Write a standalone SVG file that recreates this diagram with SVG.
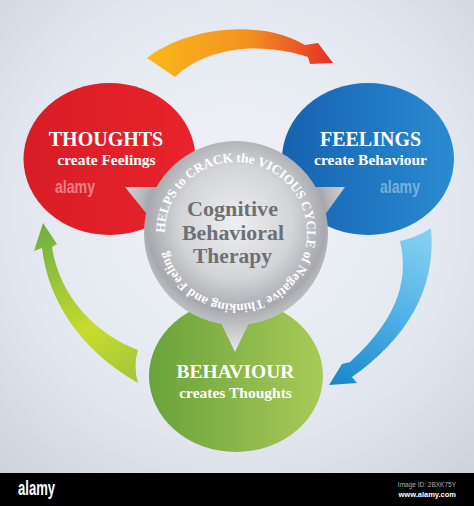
<svg xmlns="http://www.w3.org/2000/svg" width="474" height="506" viewBox="0 0 474 506">
<defs>
<style>
.lbl{font-family:"Liberation Serif","Times New Roman",serif;font-weight:bold;fill:#ffffff;text-anchor:middle}
.big{font-size:20px}
.sub{font-size:15.5px}
.cbt{font-family:"Liberation Serif","Times New Roman",serif;font-weight:bold;fill:#6f7073;font-size:20px;text-anchor:middle}
.ring{font-family:"Liberation Serif","Times New Roman",serif;font-weight:bold;fill:#ffffff;font-size:13.1px}
.wm{font-family:"Liberation Sans",Arial,sans-serif;font-weight:bold;fill:#ffffff}
</style>
<radialGradient id="bg" cx="237" cy="210" r="360" gradientUnits="userSpaceOnUse">
<stop offset="0" stop-color="#f1f4f9"/>
<stop offset="0.6" stop-color="#e3e8f0"/>
<stop offset="1" stop-color="#ccd2dc"/>
</radialGradient>
<linearGradient id="gRed" x1="0" y1="0" x2="1" y2="0">
<stop offset="0" stop-color="#d81d26"/>
<stop offset="1" stop-color="#e8232b"/>
</linearGradient>
<linearGradient id="gBlue" x1="0" y1="0" x2="1" y2="0">
<stop offset="0" stop-color="#1662b0"/>
<stop offset="1" stop-color="#2a8bd1"/>
</linearGradient>
<linearGradient id="gGreen" x1="0" y1="0" x2="1" y2="0">
<stop offset="0" stop-color="#6aa23b"/>
<stop offset="1" stop-color="#a9ca58"/>
</linearGradient>
<radialGradient id="gGray" cx="236" cy="222" r="126" gradientUnits="userSpaceOnUse">
<stop offset="0" stop-color="#eeeff1"/>
<stop offset="0.45" stop-color="#d3d4d7"/>
<stop offset="0.71" stop-color="#a7a9ae"/>
<stop offset="0.76" stop-color="#b4b6ba"/>
<stop offset="1" stop-color="#e2e3e6"/>
</radialGradient>
<linearGradient id="gOrange" x1="147" y1="0" x2="333" y2="0" gradientUnits="userSpaceOnUse">
<stop offset="0" stop-color="#f9b81b"/>
<stop offset="0.55" stop-color="#f39120"/>
<stop offset="1" stop-color="#e42f28"/>
</linearGradient>
<linearGradient id="gBlueArrow" x1="420" y1="228" x2="335" y2="385" gradientUnits="userSpaceOnUse">
<stop offset="0" stop-color="#86d1f2"/>
<stop offset="0.5" stop-color="#4fb0e6"/>
<stop offset="1" stop-color="#1a87c9"/>
</linearGradient>
<linearGradient id="gGreenArrow" x1="138" y1="370" x2="43" y2="223" gradientUnits="userSpaceOnUse">
<stop offset="0" stop-color="#a7c83a"/>
<stop offset="0.35" stop-color="#c8dc2c"/>
<stop offset="1" stop-color="#6dad44"/>
</linearGradient>
<path id="ringPath" d="M165,233 A71,71 0 1 1 307,233 A71,71 0 1 1 165,233"/>
</defs>

<rect x="0" y="0" width="474" height="506" fill="url(#bg)"/>

<g id="connectors">
<path id="arrow-thoughts-feelings" fill="url(#gOrange)" d="M147,58 C185,28 260,18 305,45 L318,43 L333,63 L310,64 L308,57 C275,46 215,40 175,77 Z"/>
<path id="arrow-feelings-behaviour" fill="url(#gBlueArrow)" d="M400,241 C408,275 402,315 350,362 L342,364 L329,385 L357,383 L352,377 C405,340 437,290 431,228 Q416,238 400,241 Z"/>
<path id="arrow-behaviour-thoughts" fill="url(#gGreenArrow)" d="M138,350 C100,336 60,300 52,247 L57,244 L43,223 L34,251 L42,248 C48,300 80,350 138,383 Q133,366 138,350 Z"/>
</g>

<g id="node-thoughts">
<ellipse cx="109.5" cy="159" rx="86" ry="76" fill="url(#gRed)"/>
<text class="lbl big" x="106" y="146">THOUGHTS</text>
<text class="lbl sub" x="106.5" y="165">create Feelings</text>
<text class="wm" x="55" y="193" font-size="18" textLength="40" lengthAdjust="spacingAndGlyphs" fill-opacity="0.45">alamy</text>
</g>

<g id="node-feelings">
<ellipse cx="368" cy="159" rx="86" ry="76" fill="url(#gBlue)"/>
<text class="lbl big" x="370.5" y="146">FEELINGS</text>
<text class="lbl sub" x="370.5" y="165">create Behaviour</text>
<text class="wm" x="380" y="193" font-size="18" textLength="40" lengthAdjust="spacingAndGlyphs" fill-opacity="0.4">alamy</text>
</g>

<g id="node-behaviour">
<ellipse cx="236" cy="376" rx="87" ry="76" fill="url(#gGreen)"/>
<text class="lbl" x="235.5" y="378" font-size="19.5">BEHAVIOUR</text>
<text class="lbl sub" x="235.5" y="398">creates Thoughts</text>
</g>

<g id="node-cbt">
<g fill="url(#gGray)">
<polygon points="125,187 180,187 180,234 163,234"/>
<polygon points="345,187 292,187 292,237 309,237"/>
<polygon points="235,352 210,300 260,300"/>
<circle cx="236" cy="233" r="92"/>
</g>
<text class="ring"><textPath href="#ringPath">HELPS to CRACK the VICIOUS CYCLE of Negative Thinking and Feeling</textPath></text>
<text class="cbt" x="232.5" y="216" textLength="91" lengthAdjust="spacingAndGlyphs">Cognitive</text>
<text class="cbt" x="233" y="239.5" textLength="102" lengthAdjust="spacingAndGlyphs">Behavioral</text>
<text class="cbt" x="232.5" y="263" textLength="79" lengthAdjust="spacingAndGlyphs">Therapy</text>
</g>

<g id="footer">
<rect x="0" y="473" width="474" height="33" fill="#000000"/>
<text class="wm" x="18" y="495" font-size="20" textLength="37" lengthAdjust="spacingAndGlyphs">alamy</text>
<text x="456" y="487" font-family="Liberation Sans, Arial, sans-serif" font-size="6.5" fill="#b0b0b0" text-anchor="end">Image ID: 2BXK75Y</text>
<text x="456" y="497" font-family="Liberation Sans, Arial, sans-serif" font-size="7.5" font-weight="bold" fill="#ffffff" text-anchor="end">www.alamy.com</text>
</g>
</svg>
